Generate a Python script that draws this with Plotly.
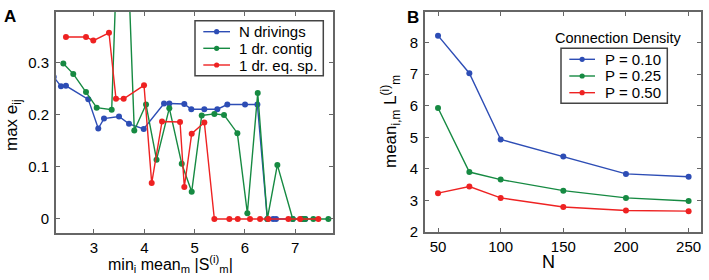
import plotly.graph_objects as go

# ---------------- Panel A data ----------------
a_blue_x = [2.20, 2.344, 2.443, 2.887, 3.085, 3.199, 3.497, 3.696, 3.988, 4.392, 4.497, 4.795, 4.934,
            5.193, 5.451, 5.650, 6.002, 6.247, 6.445, 6.560, 6.618, 6.950, 7.130, 7.200]
a_blue_y = [0.273, 0.255, 0.256, 0.230, 0.174, 0.193, 0.197, 0.183, 0.173, 0.222, 0.222, 0.221, 0.211,
            0.211, 0.211, 0.220, 0.220, 0.220, 0.0, 0.0, 0.0, 0.0, 0.0, 0.0]

a_green_x = [2.390, 2.588, 2.841, 3.054, 3.352, 3.561, 3.801, 4.034, 4.243, 4.497, 4.744, 4.942, 5.141,
             5.392, 5.584, 5.849, 6.048, 6.254, 6.445, 6.644, 6.950, 7.149, 7.195, 7.360, 7.658]
a_green_y = [0.299, 0.279, 0.244, 0.214, 0.210, 0.80, 0.170, 0.220, 0.114, 0.213, 0.106, 0.0525, 0.199,
             0.202, 0.200, 0.165, 0.011, 0.242, 0.0, 0.104, 0.0, 0.0, 0.0, 0.0, 0.0]

a_red_x = [2.443, 2.841, 2.986, 3.298, 3.437, 3.590, 3.994, 4.147, 4.352, 4.710, 4.795, 4.942, 5.193,
           5.392, 5.690, 5.857, 6.101, 6.300, 6.465, 6.863, 7.095, 7.459]
a_red_y = [0.350, 0.350, 0.343, 0.358, 0.231, 0.231, 0.257, 0.069, 0.1875, 0.1865, 0.0615, 0.164, 0.1855,
           0.0, 0.0, 0.0, 0.0, 0.0, 0.0, 0.0, 0.0, 0.0]

a_names = ["N drivings", "1 dr. contig", "1 dr. eq. sp."]
a_xticks = [3, 4, 5, 6, 7]
a_yticks = [0, 0.1, 0.2, 0.3]

# ---------------- Panel B data ----------------
b_N = [50, 75, 100, 150, 200, 250]
b_p010 = [8.22, 7.03, 4.93, 4.39, 3.84, 3.75]
b_p025 = [5.93, 3.90, 3.66, 3.31, 3.08, 2.98]
b_p050 = [3.23, 3.44, 3.08, 2.79, 2.68, 2.66]
b_names = ["P = 0.10", "P = 0.25", "P = 0.50"]
b_legend_title = "Connection Density"
b_xticks = [50, 100, 150, 200, 250]
b_yticks = [2, 3, 4, 5, 6, 7, 8]

BLUE = "#2d4db5"
GREEN = "#168a42"
RED = "#ee2222"
COLORS = [BLUE, GREEN, RED]
AX = "#666666"
BOX = "#444444"
FONT = "Liberation Sans, Arial, sans-serif"

W, H = 709, 280

fig = go.Figure()

for xs, ys, nm, c in zip([a_blue_x, a_green_x, a_red_x], [a_blue_y, a_green_y, a_red_y], a_names, COLORS):
    fig.add_trace(go.Scatter(x=xs, y=ys, name=nm, mode="lines+markers",
                             line=dict(color=c, width=1.4),
                             marker=dict(color=c, size=6),
                             xaxis="x", yaxis="y"))

for ys, nm, c in zip([b_p010, b_p025, b_p050], b_names, COLORS):
    fig.add_trace(go.Scatter(x=b_N, y=ys, name=nm, mode="lines+markers",
                             line=dict(color=c, width=1.4),
                             marker=dict(color=c, size=6),
                             xaxis="x2", yaxis="y2"))


def px_x(p):
    return p / W


def px_y(p):
    return 1 - p / H


axis_common = dict(showline=True, linecolor=AX, linewidth=2, mirror="ticks",
                   ticks="inside", ticklen=4, tickwidth=1, tickcolor=AX,
                   showgrid=False, zeroline=False, automargin=False,
                   tickfont=dict(family=FONT, size=15, color="black"))

fig.update_layout(
    width=W, height=H, autosize=False,
    margin=dict(l=0, r=0, t=0, b=0, pad=0),
    paper_bgcolor="white", plot_bgcolor="white",
    font=dict(family=FONT, color="black"),
    showlegend=False,
    xaxis=dict(domain=[px_x(56), px_x(333)], range=[2.245, 7.75], tickvals=a_xticks,
               anchor="y", ticklabelstandoff=0, **axis_common),
    yaxis=dict(domain=[px_y(233), px_y(12)], range=[-0.027, 0.398], tickvals=a_yticks,
               anchor="x", ticklabelstandoff=2, **axis_common),
    xaxis2=dict(domain=[px_x(425), px_x(701)], range=[39.6, 259.9], tickvals=b_xticks,
                anchor="y2", ticklabelstandoff=0, **axis_common),
    yaxis2=dict(domain=[px_y(232), px_y(12)], range=[2, 8.97], tickvals=b_yticks,
                anchor="x2", ticklabelstandoff=2, **axis_common),
)

ann = [
    dict(text="<b>A</b>", x=px_x(10), y=px_y(16), font=dict(size=17)),
    dict(text="<b>B</b>", x=px_x(413), y=px_y(17), font=dict(size=17)),
    dict(text="max e<sub>ij</sub>", x=px_x(13), y=px_y(125), textangle=-90, font=dict(size=17)),
    dict(text="min<sub>i</sub> mean<sub>m</sub> |S<sup>(i)</sup><sub>m</sub>|", x=px_x(170), y=px_y(264),
         font=dict(size=16)),
    dict(text="mean<sub>i,m</sub> L<sup>(i)</sup><sub>m</sub>", x=px_x(390), y=px_y(122), textangle=-90,
         font=dict(size=17)),
    dict(text="N", x=px_x(548), y=px_y(262), font=dict(size=18)),
    dict(text=b_legend_title, x=px_x(618), y=px_y(38), font=dict(size=14.5)),
]
shapes = []


def add_legend(names, box, rows, line_x, text_x):
    x0, y0, x1, y1 = box
    shapes.append(dict(type="rect", xref="paper", yref="paper",
                       x0=px_x(x0), x1=px_x(x1), y0=px_y(y1), y1=px_y(y0),
                       line=dict(color=BOX, width=1.5), fillcolor="white", layer="above"))
    for nm, c, ry in zip(names, COLORS, rows):
        shapes.append(dict(type="line", xref="paper", yref="paper",
                           x0=px_x(line_x[0]), x1=px_x(line_x[1]), y0=px_y(ry), y1=px_y(ry),
                           line=dict(color=c, width=1.4), layer="above"))
        mx = (line_x[0] + line_x[1]) / 2
        shapes.append(dict(type="circle", xref="paper", yref="paper",
                           x0=px_x(mx - 2.6), x1=px_x(mx + 2.6), y0=px_y(ry + 2.6), y1=px_y(ry - 2.6),
                           line=dict(color=c, width=0), fillcolor=c, layer="above"))
        ann.append(dict(text=nm, x=px_x(text_x), y=px_y(ry), xanchor="left",
                        font=dict(size=15)))


add_legend(a_names, (195, 20.7, 323.3, 75.7), [31.7, 48.3, 65.0], (203.3, 230), 236.5)
add_legend(b_names, (561, 48.3, 667.3, 103.3), [59.3, 76.0, 92.7], (569.3, 595), 603.3)

fig.update_layout(
    shapes=shapes,
    annotations=[dict({"xref": "paper", "yref": "paper", "showarrow": False,
                       "xanchor": "center", "yanchor": "middle"}, **a) for a in ann],
)

fig.write_html("out.html", config={"displayModeBar": False},
               post_script="document.body.style.margin='0px';")
